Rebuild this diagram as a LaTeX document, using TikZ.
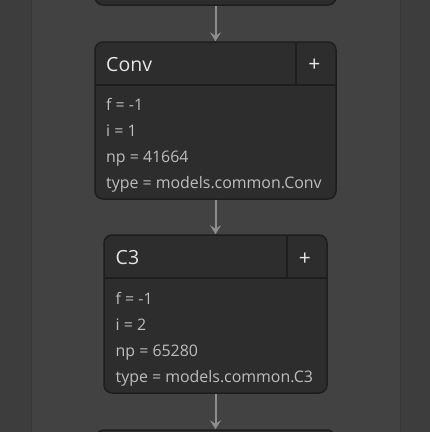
\documentclass[tikz,border=0pt]{standalone}
\usepackage{fontspec}
\setmainfont{Open Sans}
\usetikzlibrary{arrows.meta}
\definecolor{bgout}{HTML}{3D3D3D}
\definecolor{bgin}{HTML}{424242}
\definecolor{bgedge}{HTML}{393939}
\definecolor{cardfill}{HTML}{2D2D2D}
\definecolor{cardline}{HTML}{1E1E1E}
\definecolor{headtext}{HTML}{E6E6E6}
\definecolor{bodytext}{HTML}{BDBDBD}
\definecolor{arrowcol}{HTML}{8E8E8E}
\tikzset{
  card/.style={draw=cardline, line width=1.5pt, fill=cardfill, rounded corners=8pt, inner sep=0pt, rectangle},
  divider/.style={draw=cardline, line width=1.5pt},
  headlabel/.style={anchor=base west, inner sep=0pt, text=headtext, font=\fontsize{19.5}{19.5}\selectfont},
  pluslabel/.style={anchor=center, inner sep=0pt, text=headtext, font=\fontsize{21}{21}\selectfont},
  bodylabel/.style={anchor=base west, inner sep=0pt, text=bodytext, font=\fontsize{15.9}{15.9}\selectfont},
  flow/.style={draw=arrowcol, line width=2pt, -{Stealth[length=9pt,width=11pt,inset=3.5pt]}}
}
\begin{document}
\begin{tikzpicture}[x=1pt,y=-1pt]
\useasboundingbox (0,0) rectangle (430,432);
\clip (0,0) rectangle (430,432);
\fill[bgout] (0,0) rectangle (430,432);
\fill[bgin] (31,0) rectangle (400,432);
\draw[bgedge, line width=1pt] (31,0) -- (31,432) (400,0) -- (400,432);
% previous card (cut off at top)
\node[card, minimum width=241pt, minimum height=70pt] (prev) at (215.5,-30) {};
% Conv card
\node[card, minimum width=241pt, minimum height=157pt] (conv) at (215.5,120.5) {};
\draw[divider] (95,85) -- (336,85);
\draw[divider] (296,42) -- (296,85);
\node[headlabel] (convname) at (106,71) {Conv};
\node[pluslabel] (convplus) at (314.5,65) {+};
\node[bodylabel] (convf) at (106,110) {f = -1};
\node[bodylabel] (convi) at (106,136) {i = 1};
\node[bodylabel] (convnp) at (106,162) {np = 41664};
\node[bodylabel] (convtype) at (106,188) {type = models.common.Conv};
% C3 card
\node[card, minimum width=223pt, minimum height=158pt] (cthree) at (215.5,314) {};
\draw[divider] (104,278) -- (327,278);
\draw[divider] (287,235) -- (287,278);
\node[headlabel] (cthreename) at (115.5,264.5) {C3};
\node[pluslabel] (cthreeplus) at (305,259.5) {+};
\node[bodylabel] (cthreef) at (115.5,304) {f = -1};
\node[bodylabel] (cthreei) at (115.5,330) {i = 2};
\node[bodylabel] (cthreenp) at (115.5,356) {np = 65280};
\node[bodylabel] (cthreetype) at (115.5,382) {type = models.common.C3};
% next card (cut off at bottom)
\node[card, minimum width=239pt, minimum height=70pt] (next) at (215.5,465) {};
% connectors
\draw[flow] (prev.south) -- (conv.north);
\draw[flow] (conv.south) -- (cthree.north);
\draw[flow] (cthree.south) -- (next.north);
\end{tikzpicture}
\end{document}
